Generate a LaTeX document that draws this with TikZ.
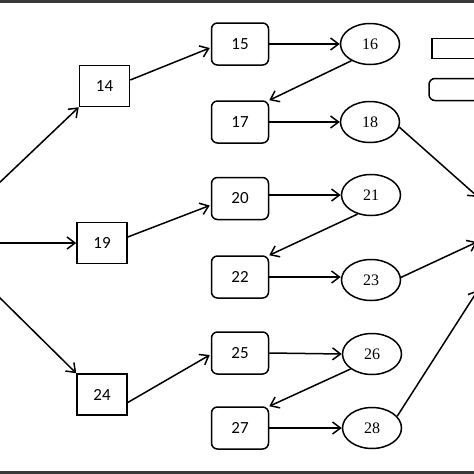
\documentclass[tikz,border=0pt]{standalone}
\usepackage{fontspec}
\setmainfont{Liberation Serif}
\newfontfamily\boxfont{Carlito}
\usetikzlibrary{arrows.meta,shapes.geometric}

\begin{document}
\begin{tikzpicture}[x=1pt,y=-1pt,
        sqbox/.style={draw,line width=1.5pt,minimum width=50pt,minimum height=41pt,inner sep=0pt,font=\boxfont\fontsize{17}{17}\selectfont},
        rbox/.style={sqbox,rounded corners=6pt,minimum width=57pt,minimum height=42pt},
        oval/.style={draw,ellipse,line width=1.5pt,minimum width=59pt,minimum height=41pt,inner sep=0pt,font=\fontsize{16}{16}\selectfont},
        link/.style={line width=1.5pt,-{Straight Barb[length=8pt,width=12pt,line width=1.5pt]}}]
                \useasboundingbox (0,0) rectangle (474,474);
                \clip (0,0) rectangle (474,474);
                \fill[white] (0,0) rectangle (474,474);
                \fill[black!78] (0,0) rectangle (474,3);
                \fill[black!78] (0,471) rectangle (474,474);
                \coordinate (s1) at (-3,185);
                \coordinate (s2) at (-3,243);
                \coordinate (s3) at (-3,295);
                \coordinate (t1) at (478,197);
                \coordinate (t2) at (477,242);
                \coordinate (t3) at (478,290);
                \node[sqbox] (n14) at (104.5,86) {14};
                \node[rbox] (n15) at (240,44) {15};
                \node[oval] (n16) at (370,44) {16};
                \node[rbox] (n17) at (240,122) {17};
                \node[oval] (n18) at (370,122) {18};
                \node[sqbox] (n19) at (102,243) {19};
                \node[rbox] (n20) at (240,198.5) {20};
                \node[oval] (n21) at (371,195) {21};
                \node[rbox] (n22) at (240,277) {22};
                \node[oval] (n23) at (371,280) {23};
                \node[sqbox] (n24) at (102,394.5) {24};
                \node[rbox] (n25) at (240,353) {25};
                \node[oval] (n26) at (372,354) {26};
                \node[rbox] (n27) at (240,428) {27};
                \node[oval] (n28) at (372,428) {28};
                \node[sqbox,minimum width=80pt,minimum height=20pt] (lg1) at (472,48.5) {};
                \node[rbox,minimum width=80pt,minimum height=22pt] (lg2) at (469,89.5) {};
                \draw[link] (s1) -- (n14.south west);
                \draw[link] (s2) -- (n19.west);
                \draw[link] (s3) -- (n24.north west);
                \draw[link] ([yshift=6pt]n14.east) -- ([yshift=-4pt,xshift=-1pt]n15.west);
                \draw[link] ([yshift=6pt]n19.east) -- ([yshift=-7pt,xshift=-1pt]n20.west);
                \draw[link] ([yshift=-8pt]n24.east) -- ([yshift=-2pt,xshift=-1pt]n25.west);
                \draw[link] (n15.east) -- (n16.west);
                \draw[link] (n17.east) -- (n18.west);
                \draw[link] (n21.west -| n20.east) -- (n21.west);
                \draw[link] (n22.east) -- (n22.east -| n23.west);
                \draw[link] (n25.east) -- (n26.west);
                \draw[link] (n27.east) -- (n28.west);
                \draw[link] (n16.222) -- (n17.north east);
                \draw[link] (n21.235) -- (n22.north east);
                \draw[link] (n26.215) -- (n27.north east);
                \draw[link] (n18.-10) -- (t1);
                \draw[link] (n23.5) -- (t2);
                \draw[link] (n28.25) -- (t3);
            \end{tikzpicture}
\end{document}
